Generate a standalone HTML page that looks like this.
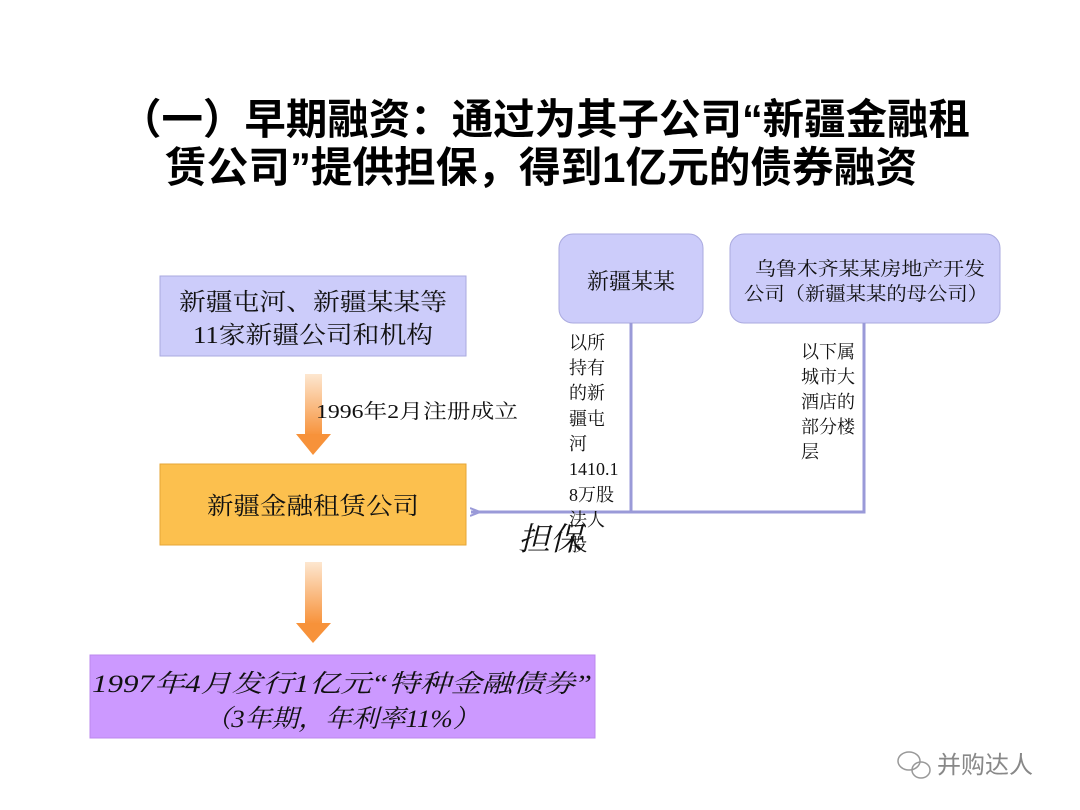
<!DOCTYPE html>
<html><head><meta charset="utf-8"><style>
html,body{margin:0;padding:0;background:#fff;}
svg{display:block;}
.t{font-family:"Liberation Sans","Noto Sans CJK SC",sans-serif;font-weight:bold;font-size:42px;fill:#000;}
.s{font-family:"Liberation Serif","Noto Serif CJK SC",serif;fill:#111;}
</style></head><body>
<svg width="1080" height="810" viewBox="0 0 1080 810" xmlns="http://www.w3.org/2000/svg">
<defs>
<linearGradient id="ag" x1="0" y1="0" x2="0" y2="1">
<stop offset="0" stop-color="#fde7d0"/><stop offset="1" stop-color="#f7923a"/>
</linearGradient>
<marker id="ah" markerWidth="10" markerHeight="10" refX="9" refY="5" orient="auto" markerUnits="userSpaceOnUse">
<path d="M10,1 L0,5 L10,9" fill="none" stroke="#9a9ad8" stroke-width="2"/>
</marker>
</defs>
<text class="t" x="120" y="134" textLength="850" lengthAdjust="spacingAndGlyphs">（一）早期融资：通过为其子公司“新疆金融租</text>
<text class="t" x="165" y="182" textLength="752" lengthAdjust="spacingAndGlyphs">赁公司”提供担保，得到1亿元的债券融资</text>

<rect x="160" y="276" width="306" height="80" fill="#ccccfa" stroke="#aaaadf" stroke-width="1"/>
<text class="s" font-size="24" x="313" y="310" text-anchor="middle" textLength="268" lengthAdjust="spacingAndGlyphs">新疆屯河、新疆某某等</text>
<text class="s" font-size="24" x="313" y="343" text-anchor="middle" textLength="240" lengthAdjust="spacingAndGlyphs">11家新疆公司和机构</text>

<rect x="305" y="374" width="17" height="62" fill="url(#ag)"/>
<polygon points="296,434 331,434 313,455" fill="#f7923a"/>
<text class="s" font-size="20" x="316" y="418" textLength="202" lengthAdjust="spacingAndGlyphs">1996年2月注册成立</text>

<rect x="160" y="464" width="306" height="81" fill="#fcc04e" stroke="#e6a636" stroke-width="1"/>
<text class="s" font-size="24" x="313" y="514" text-anchor="middle" textLength="212" lengthAdjust="spacingAndGlyphs">新疆金融租赁公司</text>

<rect x="305" y="562" width="17" height="62" fill="url(#ag)"/>
<polygon points="296,623 331,623 313,643" fill="#f7923a"/>

<rect x="90" y="655" width="505" height="83" fill="#cc99ff" stroke="#bb88ee" stroke-width="1"/>
<text class="s" font-size="25" font-style="italic" x="342" y="692" text-anchor="middle" textLength="500" lengthAdjust="spacingAndGlyphs">1997年4月发行1亿元“特种金融债券”</text>
<text class="s" font-size="25" font-style="italic" x="342" y="727" text-anchor="middle" textLength="275" lengthAdjust="spacingAndGlyphs">（3年期，年利率11%）</text>

<rect x="559" y="234" width="144" height="89" rx="14" fill="#ccccfa" stroke="#aaaadf"/>
<text class="s" font-size="22" x="631" y="289" text-anchor="middle">新疆某某</text>
<rect x="730" y="234" width="270" height="89" rx="14" fill="#ccccfa" stroke="#aaaadf"/>
<text class="s" font-size="19" x="870" y="275" text-anchor="middle" textLength="230" lengthAdjust="spacingAndGlyphs">乌鲁木齐某某房地产开发</text>
<text class="s" font-size="19" x="866" y="300" text-anchor="middle" textLength="244" lengthAdjust="spacingAndGlyphs">公司（新疆某某的母公司）</text>

<polyline points="631,323 631,512 864,512 864,323" fill="none" stroke="#9a9ad8" stroke-width="3"/>
<line x1="631" y1="512" x2="471" y2="512" stroke="#9a9ad8" stroke-width="3" marker-end="url(#ah)"/>

<g class="s" font-size="18">
<text x="569" y="349">以所</text>
<text x="569" y="374">持有</text>
<text x="569" y="399">的新</text>
<text x="569" y="425">疆屯</text>
<text x="569" y="450">河</text>
<text x="569" y="475">1410.1</text>
<text x="569" y="501">8万股</text>
<text x="569" y="526">法人</text>
<text x="569" y="551">股</text>
<text x="801" y="358">以下属</text>
<text x="801" y="383">城市大</text>
<text x="801" y="408">酒店的</text>
<text x="801" y="433">部分楼</text>
<text x="801" y="458">层</text>
</g>
<text class="s" font-size="32" font-style="italic" x="518" y="550">担保</text>

<g fill="none" stroke="#999" stroke-width="1.5">
<ellipse cx="909" cy="761" rx="11" ry="9"/>
<ellipse cx="921" cy="770" rx="9" ry="8"/>
</g>
<text font-family="Liberation Sans,'Noto Sans CJK SC',sans-serif" font-size="24" fill="#888" x="937" y="773">并购达人</text>
</svg>
</body></html>
